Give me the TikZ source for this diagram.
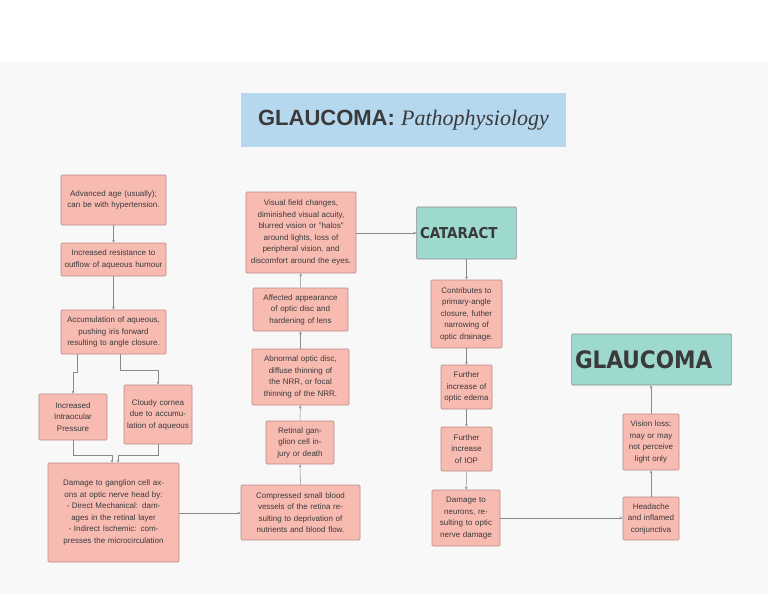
\documentclass[tikz,border=0pt]{standalone}
\usepackage{fontspec}
\setmainfont{Liberation Sans}
\newfontfamily\condf{DejaVu Sans Condensed}
\newfontfamily\scrf{Liberation Serif}
\usetikzlibrary{arrows.meta}
\definecolor{pinkf}{HTML}{F8BBB2}
\definecolor{pinkd}{HTML}{B98A84}
\definecolor{tealf}{HTML}{9ED9CF}
\definecolor{bluef}{HTML}{B6D8EE}
\definecolor{txt}{HTML}{3A3A3A}
\definecolor{bg}{HTML}{F8F8F8}
\definecolor{ln}{HTML}{8A8A8A}
\tikzset{
 pbox/.style={draw=pinkd,fill=pinkf,line width=0.6pt,rounded corners=1pt,inner sep=1pt,align=center,text=txt,font=\fontsize{8}{11.5}\selectfont},
 tbox/.style={draw=ln,fill=tealf,line width=0.6pt,rounded corners=1pt,text=txt},
 conn/.style={draw=ln,line width=0.5pt,-{Stealth[length=3pt,width=2.5pt]}}
}
\newcommand{\bx}[7][pbox]{\node[#1,minimum width=#5pt-#3pt,minimum height=#6pt-#4pt,text width=#5pt-#3pt-4pt] (#2) at ({(#3+#5)/2},{(#4+#6)/2}) {#7};}
\begin{document}
\begin{tikzpicture}[x=1pt,y=-1pt]
\useasboundingbox (0,0) rectangle (768,594);
\fill[white] (0,0) rectangle (768,594);
\fill[bg] (0,62) rectangle (768,594);
\node[fill=bluef,minimum width=325pt,minimum height=54pt,inner sep=0pt] (title) at (403.5,120) {\fontsize{22}{24}\selectfont\bfseries\color{txt}GLAUCOMA: \mdseries\scrf\itshape Pathophysiology};
\bx{a1}{61}{175}{166}{225}{Advanced age (usually); can be with hypertension.}
\bx{a2}{61}{243}{166}{276}{Increased resistance to outflow of aqueous humour}
\bx{a3}{61}{310}{166}{354}{Accumulation of aqueous, pushing iris forward resulting to angle closure.}
\bx{a4}{39}{394}{107}{440}{Increased Intraocular Pressure}
\bx{a5}{124}{385}{192}{444}{Cloudy cornea due to accumulation of aqueous}
\bx{a6}{48}{463}{179}{562}{Damage to ganglion cell axons at optic nerve head by:\\- Direct Mechanical: damages in the retinal layer\\- Indirect Ischemic: compresses the microcirculation}
\bx{b1}{241}{485}{360}{540}{Compressed small blood vessels of the retina resulting to deprivation of nutrients and blood flow.}
\bx{b2}{266}{421}{334}{464}{Retinal ganglion cell injury or death}
\bx{b3}{252}{349}{349}{405}{Abnormal optic disc, diffuse thinning of the NRR, or focal thinning of the NRR.}
\bx{b4}{253}{288}{348}{331}{Affected appearance of optic disc and hardening of lens}
\bx{b5}{246}{192}{356}{273}{Visual field changes, diminished visual acuity, blurred vision or ''halos'' around lights, loss of peripheral vision, and discomfort around the eyes.}
\bx[tbox]{cat}{418}{207}{515}{259}{\centering\condf\bfseries\fontsize{15}{16}\selectfont CATARACT}
\bx{c1}{431}{280}{502}{348}{Contributes to primary-angle closure, futher narrowing of optic drainage.}
\bx{c2}{441}{365}{492}{409}{Further increase of optic edema}
\bx{c3}{441}{427}{492}{471}{Further increase of IOP}
\bx{c4}{432}{490}{500}{546}{Damage to neurons, resulting to optic nerve damage}
\bx[tbox]{gla}{573}{334}{730}{385}{\centering\condf\bfseries\fontsize{24}{26}\selectfont GLAUCOMA}
\bx{d1}{623}{414}{679}{470}{Vision loss; may or may not perceive light only}
\bx{d2}{623}{497}{679}{540}{Headache and inflamed conjunctiva}
\draw[conn] (a1) -- (a2);
\draw[conn] (a2) -- (a3);
\draw[conn] (a3.south -| 77,0) |- (73,372) -- (a4.north -| 73,0);
\draw[conn] (a3.south -| 120,0) |- (158,370) -- (a5.north -| 158,0);
\draw[conn] (a4.south -| 73,0) |- (112,455) -- (a6.north -| 112,0);
\draw[conn] (a5.south -| 158,0) |- (118,455) -- (a6.north -| 118,0);
\draw[conn] (a6.east |- 0,513) -- (b1.west |- 0,513);
\draw[conn] (b1) -- (b2);
\draw[conn] (b2) -- (b3);
\draw[conn] (b3) -- (b4);
\draw[conn] (b4) -- (b5);
\draw[conn] (b5.east |- 0,233) -- (cat.west |- 0,233);
\draw[conn] (cat.south -| c1) -- (c1);
\draw[conn] (c1) -- (c2);
\draw[conn] (c2) -- (c3);
\draw[conn] (c3) -- (c4);
\draw[conn] (c4.east |- 0,518) -- (d2.west |- 0,518);
\draw[conn] (d2) -- (d1);
\draw[conn] (d1) -- (d1 |- gla.south);
\end{tikzpicture}
\end{document}
